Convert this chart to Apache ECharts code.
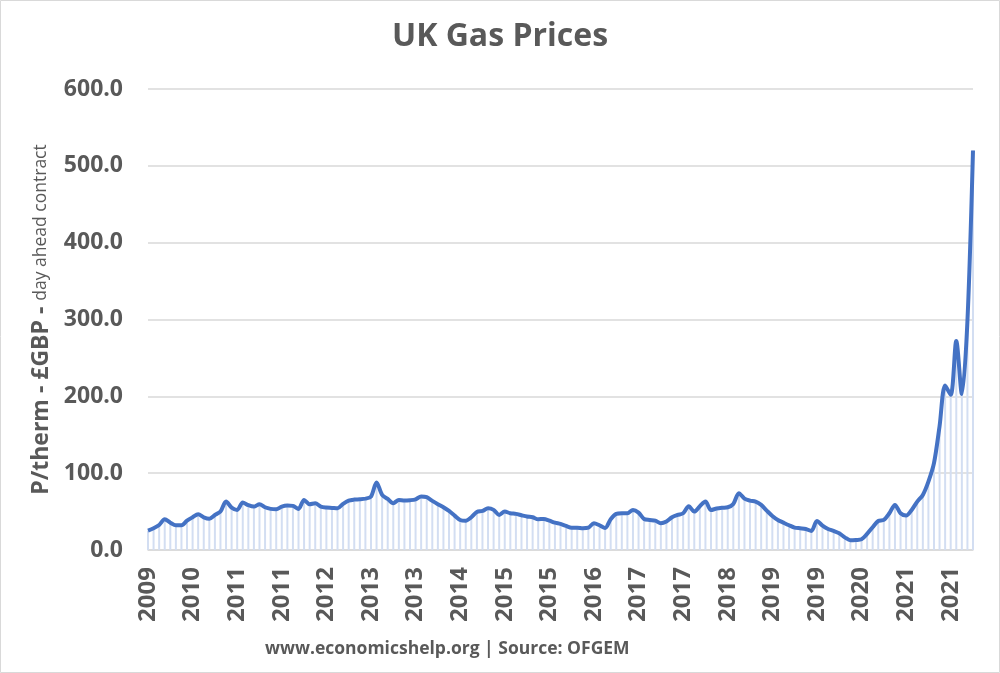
<!DOCTYPE html>
<html>
<head>
<meta charset="utf-8">
<title>UK Gas Prices</title>
<script src="https://cdn.jsdelivr.net/npm/echarts@6/dist/echarts.min.js"></script>
<style>
    html, body { margin: 0; padding: 0; background: #fff; }
    #gas-echarts { width: 1000px; height: 673px; }
</style>
</head>
<body>
<div id="gas-echarts"></div>
<script>
// monthly day-ahead price, p/therm, Nov 2009 .. Mar 2022
const firstYear = 2009;
const firstMonth = 11;
const prices = [
    25.2, 28.3, 32.6, 40.0, 35.6, 32.2, 32.2, 38.2, 42.6, 46.5,
    42.6, 40.8, 45.6, 50.0, 63.0, 55.2, 52.2, 61.7, 58.3, 56.5,
    59.6, 55.6, 53.5, 53.0, 56.5, 57.8, 57.4, 53.5, 65.2, 59.6,
    60.9, 56.5, 55.2, 54.8, 54.3, 60.0, 64.3, 65.6, 66.0, 66.9,
    69.5, 87.8, 71.7, 66.5, 60.9, 65.2, 64.3, 64.8, 66.0, 69.5,
    68.7, 64.0, 59.6, 55.6, 50.8, 44.8, 39.1, 38.2, 42.6, 49.5,
    50.8, 54.3, 52.2, 45.6, 50.0, 47.8, 47.0, 45.2, 43.5, 42.6,
    40.0, 40.4, 38.2, 35.6, 33.9, 31.3, 29.1, 29.1, 28.3, 29.1,
    34.8, 32.2, 28.7, 40.0, 47.0, 47.8, 47.8, 52.2, 48.7, 40.4,
    39.1, 38.2, 34.8, 37.0, 42.6, 45.6, 47.8, 57.0, 50.0, 57.0,
    63.0, 52.0, 54.0, 55.0, 55.6, 60.0, 74.0, 66.9, 64.3, 63.0,
    58.7, 51.3, 44.3, 39.1, 35.6, 32.2, 29.1, 28.3, 27.4, 24.8,
    37.8, 31.7, 27.4, 24.8, 21.7, 16.5, 12.6, 13.0, 13.9, 21.0,
    29.6, 37.8, 39.1, 47.8, 58.7, 47.8, 44.8, 52.2, 63.0, 71.7,
    89.0, 113.0, 161.0, 214.0, 202.0, 272.0, 203.0, 298.0, 520.0
];

// one category per month, the label shows only the year
const months = [];
for (let i = 0; i < prices.length; i++) {
    let m = firstMonth - 1 + i;
    months.push((firstYear + Math.floor(m / 12)) + '-' + String(m % 12 + 1).padStart(2, '0'));
}

const grey = '#595959';
const font = '"Open Sans", "Liberation Sans", sans-serif';

function loadEcharts() {
    echarts.init(document.getElementById('gas-echarts')).setOption({
        animation: false,
        backgroundColor: '#fff',
        title: {
            text: 'UK Gas Prices',
            left: 'center',
            top: 16,
            textStyle: { color: grey, fontSize: 32, fontWeight: 'bold', fontFamily: font }
        },
        graphic: [
            {
                type: 'rect',
                shape: { x: 0.5, y: 0.5, width: 999, height: 672 },
                style: { fill: 'none', stroke: '#d9d9d9', lineWidth: 1 },
                silent: true
            },
            {
                type: 'text',
                left: 265,
                top: 640,
                style: {
                    text: 'www.economicshelp.org | Source: OFGEM',
                    fill: grey,
                    font: 'bold 17.5px ' + font
                }
            }
        ],
        grid: { left: 148, right: 27, top: 89, bottom: 123 },
        xAxis: {
            type: 'category',
            data: months,
            boundaryGap: false,
            axisLine: { lineStyle: { color: '#d9d9d9', width: 1.5 } },
            axisTick: { show: false },
            axisLabel: {
                interval: 7,
                rotate: 90,
                margin: 17,
                color: grey,
                fontSize: 24,
                fontWeight: 'bold',
                fontFamily: font,
                formatter: v => v.slice(0, 4)
            }
        },
        yAxis: {
            type: 'value',
            min: 0,
            max: 600,
            interval: 100,
            name: '{a|P/therm - £GBP - }{b|day ahead contract}',
            nameLocation: 'middle',
            nameGap: 94,
            nameTextStyle: {
                rich: {
                    a: { color: grey, fontSize: 23, fontWeight: 'bold', fontFamily: font },
                    b: { color: grey, fontSize: 17.5, fontFamily: font }
                }
            },
            axisLine: { show: false },
            axisTick: { show: false },
            axisLabel: {
                margin: 25,
                color: grey,
                fontSize: 23,
                fontWeight: 'bold',
                fontFamily: font,
                formatter: v => v.toFixed(1)
            },
            splitLine: { lineStyle: { color: '#d9d9d9', width: 1.5 } }
        },
        series: [
            {
                // drop lines from each point to the axis
                type: 'bar',
                data: prices,
                barWidth: 2,
                silent: true,
                itemStyle: { color: '#d3def2' }
            },
            {
                name: 'Day ahead',
                type: 'line',
                data: prices,
                smooth: 0.3,
                symbol: 'none',
                z: 5,
                lineStyle: { color: '#4472c4', width: 4 }
            }
        ]
    });
}

loadEcharts();
</script>
</body>
</html>
